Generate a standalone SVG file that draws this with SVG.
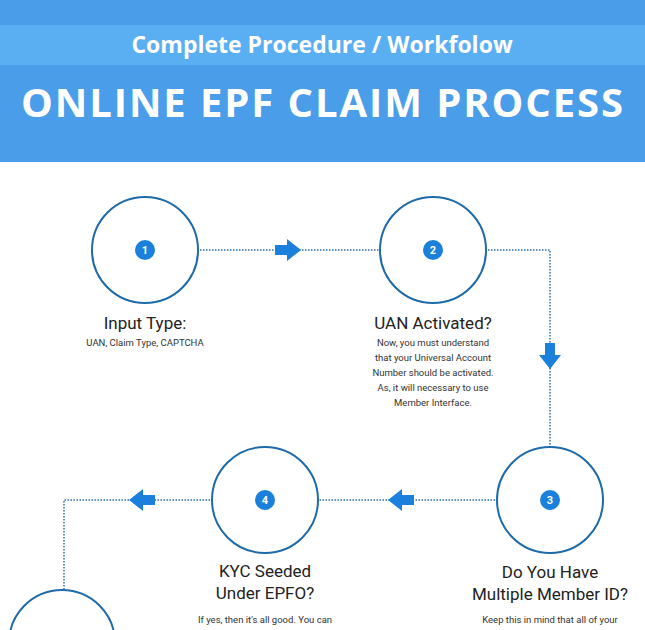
<svg xmlns="http://www.w3.org/2000/svg" width="645" height="630" viewBox="0 0 645 630">
<style>
.ring{fill:#fff;stroke:#1f6aa8;stroke-width:2}
.badge{fill:#1a80dc}
.bn{font-family:Roboto,"Liberation Sans",sans-serif;font-size:11px;font-weight:bold;fill:#fff;text-anchor:middle}
.h{font-family:Roboto,"Liberation Sans",sans-serif;font-size:17px;fill:#222;text-anchor:middle}
.d{font-family:Roboto,"Liberation Sans",sans-serif;font-size:9.5px;fill:#333;text-anchor:middle}
.dot{fill:none;stroke:#2c6eb0;stroke-width:1.5;stroke-dasharray:1.5 1.5}
.arr{fill:#1a80dc}
</style>
<rect width="645" height="630" fill="#fff"/>
<rect width="645" height="162" fill="#4a9de8"/>
<rect y="25" width="645" height="40" fill="#5aaef2"/>
<text x="322" y="53" text-anchor="middle" font-family="'Open Sans','DejaVu Sans',sans-serif" font-weight="bold" font-size="23" fill="#fff">Complete Procedure / Workfolow</text>
<text x="322" y="117" text-anchor="middle" font-family="'Open Sans','DejaVu Sans',sans-serif" font-weight="bold" font-size="40" fill="#fff" textLength="602">ONLINE EPF CLAIM PROCESS</text>
<g id="connectors">
<path class="dot" d="M200 250H382"/>
<path class="dot" d="M485 250H550V448"/>
<path class="dot" d="M498 500H318"/>
<path class="dot" d="M213 500H64V590"/>
<path class="arr" d="M275 245h12v-6l14 11l-14 11v-6h-12z"/>
<path class="arr" d="M545 343v12h-6l11 14l11-14h-6v-12z"/>
<path class="arr" d="M414 495h-12v-6l-14 11l14 11v-6h12z"/>
<path class="arr" d="M155 495h-12v-6l-14 11l14 11v-6h12z"/>
</g>
<g id="n1"><circle class="ring" cx="145" cy="250" r="53"/><circle class="badge" cx="145" cy="250" r="10"/><text class="bn" x="145" y="254">1</text>
<text class="h" x="145" y="329">Input Type:</text><text class="d" x="145" y="346">UAN, Claim Type, CAPTCHA</text></g>
<g id="n2"><circle class="ring" cx="433" cy="250" r="53"/><circle class="badge" cx="433" cy="250" r="10"/><text class="bn" x="433" y="254">2</text>
<text class="h" x="433" y="329">UAN Activated?</text>
<text class="d" x="433" y="346">Now, you must understand</text><text class="d" x="433" y="361">that your Universal Account</text><text class="d" x="433" y="376">Number should be activated.</text><text class="d" x="433" y="391">As, it will necessary to use</text><text class="d" x="433" y="406">Member Interface.</text></g>
<g id="n3"><circle class="ring" cx="550" cy="500" r="53"/><circle class="badge" cx="550" cy="500" r="10"/><text class="bn" x="550" y="504">3</text>
<text class="h" x="550" y="578">Do You Have</text><text class="h" x="550" y="600">Multiple Member ID?</text><text class="d" x="550" y="623">Keep this in mind that all of your</text></g>
<g id="n4"><circle class="ring" cx="265" cy="500" r="53"/><circle class="badge" cx="265" cy="500" r="10"/><text class="bn" x="265" y="504">4</text>
<text class="h" x="265" y="577">KYC Seeded</text><text class="h" x="265" y="599">Under EPFO?</text><text class="d" x="265" y="623">If yes, then it's all good. You can</text></g>
<g id="n5"><circle class="ring" cx="62" cy="643" r="53"/><circle class="badge" cx="62" cy="643" r="10"/></g>
</svg>
